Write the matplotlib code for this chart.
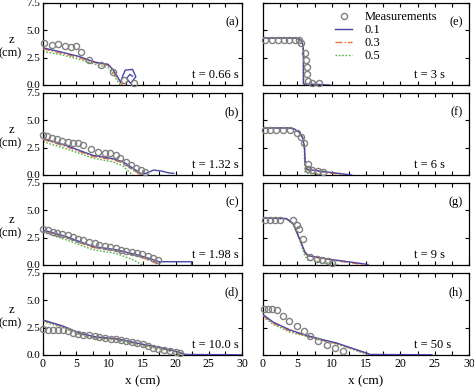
import matplotlib
matplotlib.use("Agg")
import matplotlib.pyplot as plt
from matplotlib.ticker import MultipleLocator

plt.rcParams['font.family'] = ['Liberation Serif', 'DejaVu Serif']
plt.rcParams['mathtext.fontset'] = 'stix'

# ---------------- data ----------------
labels = ['(a)', '(b)', '(c)', '(d)', '(e)', '(f)', '(g)', '(h)']
times = ['t = 0.66 s', 't = 1.32 s', 't = 1.98 s', 't = 10.0 s',
         't = 3 s', 't = 6 s', 't = 9 s', 't = 50 s']
series_names = ['Measurements', '0.1', '0.3', '0.5']

a_meas_x = [0.15, 1.3, 2.3, 3.3, 4.2, 4.9, 5.7, 6.9, 8.8, 10.5, 12.2, 13.7]
a_meas_z = [3.8, 3.64, 3.73, 3.55, 3.5, 3.55, 3.05, 2.33, 1.8, 1.2, 0.45, 0.2]
a_01_x = [0, 2.5, 5.5, 7.5, 8.8, 9.8, 10.5, 11.2, 11.7, 12.0, 12.4, 13.5, 14.0, 13.2, 12.6, 13.1, 13.5]
a_01_z = [3.4, 3.05, 2.6, 2.15, 1.97, 1.9, 1.45, 0.8, 0.25, 0.8, 1.36, 1.43, 0.75, 0.15, 0.6, 0.97, 0.8]
a_03_x = [0, 2.5, 5.5, 7.5, 8.8, 9.8, 10.5, 11.2, 11.8, 12.1]
a_03_z = [3.3, 2.95, 2.5, 2.1, 1.9, 1.8, 1.3, 0.6, 0.1, 0.0]
a_05_x = [0, 2.5, 5.5, 7.5, 8.8, 9.8, 10.5, 11.2, 11.6]
a_05_z = [3.05, 2.8, 2.35, 1.95, 1.75, 1.6, 1.1, 0.4, 0.0]

b_meas_x = [0, 0.65, 1.4, 2.1, 2.9, 3.8, 4.5, 5.3, 6.1, 7.2, 8.3, 9.4, 10.15, 11.0, 11.6, 12.5, 13.2, 14.0, 14.7, 15.4]
b_meas_z = [3.7, 3.55, 3.4, 3.25, 3.1, 3.0, 2.95, 2.9, 2.7, 2.35, 2.1, 2.0, 1.97, 1.8, 1.55, 1.2, 0.9, 0.6, 0.45, 0.3]
b_01_x = [0, 3.5, 7.5, 10.5, 12.1, 13.5, 14.8, 15.5, 16.7, 17.9, 18.9, 19.7]
b_01_z = [3.35, 2.7, 1.8, 1.5, 1.2, 0.65, 0.1, 0.15, 0.45, 0.36, 0.2, 0.15]
b_03_x = [0, 3.5, 7.5, 10.5, 12.1, 13.5, 14.7]
b_03_z = [3.25, 2.6, 1.7, 1.4, 1.1, 0.5, 0.0]
b_05_x = [0, 3.5, 7.5, 10.5, 12.0, 13.5]
b_05_z = [3.05, 2.4, 1.55, 1.2, 0.85, 0.0]

c_meas_x = [0, 0.7, 1.45, 2.1, 2.9, 3.8, 4.5, 5.3, 6.0, 6.9, 7.8, 8.5, 9.4, 10.1, 11.0, 11.75, 12.5, 13.4, 14.2, 14.9, 15.8, 16.6, 17.4]
c_meas_z = [3.33, 3.18, 3.03, 2.94, 2.88, 2.73, 2.58, 2.42, 2.27, 2.12, 1.97, 1.82, 1.73, 1.67, 1.52, 1.36, 1.3, 1.21, 1.12, 1.0, 0.82, 0.61, 0.45]
c_01_x = [0, 3.5, 7.5, 11.0, 14.4, 16.8, 17.5, 22.4, 22.4]
c_01_z = [3.2, 2.6, 1.7, 1.4, 0.9, 0.45, 0.3, 0.3, 0.0]
c_03_x = [0, 3.5, 7.5, 11.0, 14.4, 16.5, 17.6]
c_03_z = [3.15, 2.5, 1.6, 1.3, 0.8, 0.3, 0.0]
c_05_x = [0, 3.5, 7.5, 11.0, 13.5, 15.0]
c_05_z = [3.0, 2.3, 1.4, 1.05, 0.5, 0.0]

d_meas_x = [0, 0.8, 1.5, 2.3, 3.0, 3.8, 4.5, 5.3, 6.0, 6.9, 7.8, 8.5, 9.4, 10.25, 11.0, 11.75, 12.5, 13.4, 14.2, 15.1, 15.9, 16.6, 17.4, 18.2, 19.1, 20.0, 20.7]
d_meas_z = [2.35, 2.3, 2.3, 2.3, 2.3, 2.2, 2.05, 1.95, 1.85, 1.8, 1.75, 1.65, 1.55, 1.5, 1.43, 1.36, 1.27, 1.15, 1.06, 0.97, 0.82, 0.6, 0.52, 0.45, 0.36, 0.27, 0.15]
d_01_x = [0, 3.0, 5.5, 8.0, 11.0, 14.5, 17.5, 20.0, 21.5, 30.0]
d_01_z = [3.2, 2.65, 2.0, 1.65, 1.5, 1.05, 0.7, 0.35, 0.05, 0.02]
d_03_x = [0, 3.0, 5.5, 8.0, 11.0, 14.5, 17.5, 20.0, 21.5, 25.0]
d_03_z = [3.15, 2.6, 1.95, 1.6, 1.45, 1.0, 0.65, 0.3, 0.02, 0.0]
d_05_x = [0, 3.0, 5.5, 8.0, 11.0, 14.5, 17.5, 20.0, 21.0, 24.0]
d_05_z = [3.05, 2.5, 1.85, 1.5, 1.35, 0.9, 0.55, 0.2, 0.0, 0.0]

e_meas_x = [0.3, 1.3, 2.2, 3.0, 3.8, 4.6, 5.3, 5.6, 6.1, 6.3, 6.4, 6.4, 6.6, 7.2, 8.1]
e_meas_z = [4.1, 4.1, 4.1, 4.1, 4.1, 4.1, 4.1, 3.85, 2.95, 2.3, 1.65, 1.0, 0.4, 0.2, 0.15]
e_01_x = [0, 4.5, 5.2, 5.6, 5.8, 5.9, 5.9, 6.5, 8.0, 9.7]
e_01_z = [4.3, 4.3, 4.25, 4.05, 3.7, 3.0, 0.1, 0.08, 0.05, 0.0]
e_03_x = [0, 4.5, 5.2, 5.6, 5.8, 5.9, 5.9, 6.5, 8.0, 9.0]
e_03_z = [4.3, 4.3, 4.22, 4.0, 3.65, 2.9, 0.08, 0.06, 0.03, 0.0]
e_05_x = [0, 4.5, 5.2, 5.6, 5.8, 5.85, 5.85, 6.5, 8.0]
e_05_z = [4.28, 4.28, 4.2, 3.95, 3.6, 2.8, 0.05, 0.03, 0.0]

f_meas_x = [0.3, 1.0, 1.9, 2.9, 3.9, 4.9, 5.6, 6.0, 6.5, 6.6, 7.2, 8.0, 8.7]
f_meas_z = [4.15, 4.15, 4.15, 4.15, 4.1, 3.85, 3.5, 2.95, 1.0, 0.55, 0.45, 0.4, 0.3]
f_01_x = [0, 3.9, 4.6, 5.3, 5.8, 6.05, 6.15, 6.3, 6.6, 9.0, 12.9]
f_01_z = [4.3, 4.3, 4.2, 3.9, 3.4, 2.5, 1.0, 0.6, 0.5, 0.3, 0.0]
f_03_x = [0, 3.9, 4.6, 5.3, 5.8, 6.05, 6.15, 6.3, 6.6, 9.0, 12.0]
f_03_z = [4.3, 4.3, 4.18, 3.88, 3.35, 2.45, 0.9, 0.5, 0.45, 0.25, 0.0]
f_05_x = [0, 3.9, 4.6, 5.3, 5.8, 6.0, 6.1, 6.5, 7.5, 8.5]
f_05_z = [4.3, 4.3, 4.15, 3.85, 3.3, 2.4, 0.3, 0.15, 0.1, 0.0]

g_meas_x = [0.3, 1.0, 1.7, 2.5, 4.3, 4.9, 5.3, 5.8, 6.8, 7.8, 8.6, 9.4, 10.0]
g_meas_z = [4.15, 4.15, 4.15, 4.15, 4.1, 3.7, 3.25, 2.35, 0.7, 0.55, 0.5, 0.4, 0.2]
g_01_x = [0, 3.4, 4.4, 5.4, 6.1, 6.6, 10.0, 15.3]
g_01_z = [4.3, 4.25, 3.8, 2.3, 1.2, 0.85, 0.5, 0.05]
g_03_x = [0, 3.4, 4.4, 5.4, 6.1, 6.6, 10.0, 15.0]
g_03_z = [4.3, 4.25, 3.75, 2.25, 1.1, 0.8, 0.45, 0.0]
g_05_x = [0, 3.4, 4.4, 5.4, 6.0, 6.5, 9.3, 11.0]
g_05_z = [4.3, 4.2, 3.7, 2.2, 1.0, 0.45, 0.2, 0.0]

h_meas_x = [0.15, 0.8, 1.35, 2.0, 2.95, 3.8, 5.0, 5.95, 6.9, 8.0, 9.3, 10.5, 11.7]
h_meas_z = [4.25, 4.25, 4.25, 4.1, 3.55, 3.1, 2.65, 2.2, 1.75, 1.3, 0.9, 0.6, 0.35]
h_01_x = [0, 1.5, 3.9, 6.3, 8.7, 10.7, 12.6, 15.0, 15.6, 24.6]
h_01_z = [3.7, 3.0, 2.3, 1.8, 1.4, 1.1, 0.7, 0.2, 0.05, 0.02]
h_03_x = [0, 1.5, 3.9, 6.3, 8.7, 10.7, 12.6, 15.0, 15.6, 20.0]
h_03_z = [3.6, 2.9, 2.2, 1.75, 1.35, 1.05, 0.65, 0.15, 0.02, 0.0]
h_05_x = [0, 1.5, 3.9, 6.3, 8.7, 10.7, 12.6, 15.0, 15.5, 20.0]
h_05_z = [3.5, 2.8, 2.1, 1.7, 1.3, 1.0, 0.6, 0.1, 0.0, 0.0]

panels = [
    (a_meas_x, a_meas_z, a_01_x, a_01_z, a_03_x, a_03_z, a_05_x, a_05_z),
    (b_meas_x, b_meas_z, b_01_x, b_01_z, b_03_x, b_03_z, b_05_x, b_05_z),
    (c_meas_x, c_meas_z, c_01_x, c_01_z, c_03_x, c_03_z, c_05_x, c_05_z),
    (d_meas_x, d_meas_z, d_01_x, d_01_z, d_03_x, d_03_z, d_05_x, d_05_z),
    (e_meas_x, e_meas_z, e_01_x, e_01_z, e_03_x, e_03_z, e_05_x, e_05_z),
    (f_meas_x, f_meas_z, f_01_x, f_01_z, f_03_x, f_03_z, f_05_x, f_05_z),
    (g_meas_x, g_meas_z, g_01_x, g_01_z, g_03_x, g_03_z, g_05_x, g_05_z),
    (h_meas_x, h_meas_z, h_01_x, h_01_z, h_03_x, h_03_z, h_05_x, h_05_z),
]

# ---------------- styles ----------------
c_meas = '#808080'
c_01 = '#4a46a6'
c_03 = '#e8743b'
c_05 = '#52b24a'

W, H = 474, 387
fig = plt.figure(figsize=(W / 100, H / 100), dpi=100)

left_x0, left_x1 = 43, 242
right_x0, right_x1 = 263, 469
row_tops = [3, 93, 183, 273]
row_h = 82

axes = []
for col in range(2):
    x0, x1 = (left_x0, left_x1) if col == 0 else (right_x0, right_x1)
    for row in range(4):
        top = row_tops[row]
        ax = fig.add_axes([x0 / W, 1 - (top + row_h) / H, (x1 - x0) / W, row_h / H])
        axes.append(ax)

for i, ax in enumerate(axes):
    mx, mz, x1, z1, x3, z3, x5, z5 = panels[i]
    col = i // 4
    row = i % 4
    ax.plot(x5, z5, color=c_05, lw=1.0, ls=(0, (1.2, 1.2)), label=series_names[3], zorder=2)
    ax.plot(x3, z3, color=c_03, lw=1.0, ls=(0, (5, 1.5, 1, 1.5)), label=series_names[2], zorder=3)
    ax.plot(x1, z1, color=c_01, lw=1.0, ls='-', label=series_names[1], zorder=4)
    ax.plot(mx, mz, ls='none', marker='o', ms=4.4, mfc='none', mec=c_meas, mew=1.0,
            label=series_names[0], zorder=5, clip_on=False)
    ax.set_xlim(0, 30)
    ax.set_ylim(0, 7.5)
    ax.xaxis.set_major_locator(MultipleLocator(5))
    ax.xaxis.set_minor_locator(MultipleLocator(2.5))
    ax.yaxis.set_major_locator(MultipleLocator(2.5))
    ax.tick_params(which='both', direction='in', top=True, right=True, length=3,
                   width=0.8, labelsize=8, pad=2)
    for s in ax.spines.values():
        s.set_linewidth(0.9)
    if col == 0:
        ax.yaxis.set_major_formatter(plt.FuncFormatter(lambda v, p: f'{v:.1f}'))
        ax.text(-0.16, 0.55, 'z', transform=ax.transAxes, ha='center', va='center', fontsize=9)
        ax.text(-0.165, 0.39, '(cm)', transform=ax.transAxes, ha='center', va='center', fontsize=9)
    else:
        ax.tick_params(labelleft=False)
    if row == 3:
        ax.set_xlabel('x (cm)', fontsize=9.5, labelpad=4)
        ax.tick_params(axis='x', labelsize=8.5)
    else:
        ax.tick_params(labelbottom=False)
    tx = 0.985 if col == 0 else 0.97
    ax.text(tx, 0.77, labels[i], transform=ax.transAxes, ha='right', va='center', fontsize=9)
    ttx = 0.985 if col == 0 else (0.885 if row < 3 else 0.915)
    ax.text(ttx, 0.12, times[i], transform=ax.transAxes, ha='right', va='center', fontsize=9)

ax_e = axes[4]
h, l = ax_e.get_legend_handles_labels()
order = [l.index(n) for n in series_names]
ax_e.legend([h[k] for k in order], [l[k] for k in order], loc='upper left',
            bbox_to_anchor=(0.325, 0.96), frameon=False, fontsize=9,
            handlelength=1.4, handletextpad=1.0, labelspacing=0.08, borderaxespad=0.0)

fig.savefig('out.png', dpi=100)
